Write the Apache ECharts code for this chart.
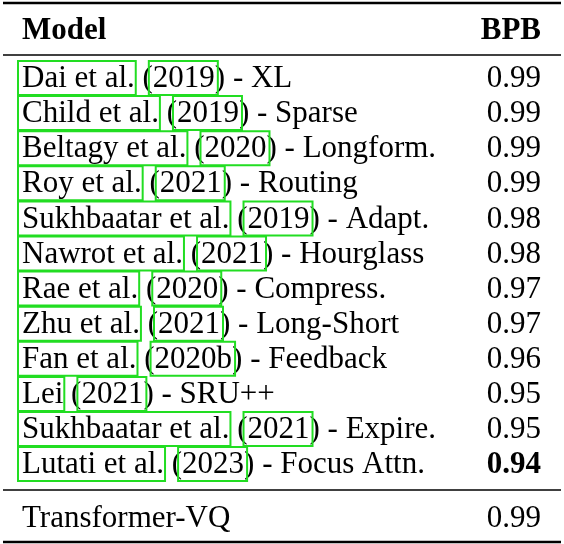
<!DOCTYPE html>
<html><head><meta charset="utf-8">
<script src="https://cdn.jsdelivr.net/npm/echarts@6/dist/echarts.min.js"></script>
<style>html,body{margin:0;padding:0;background:#fff}#c{width:564px;height:544px}</style>
</head><body><div id="c"></div>
<script>
const authors = ["Dai et al.","Child et al.","Beltagy et al.","Roy et al.","Sukhbaatar et al.","Nawrot et al.","Rae et al.","Zhu et al.","Fan et al.","Lei","Sukhbaatar et al.","Lutati et al."];
const years = ["2019","2019","2020","2021","2019","2021","2020","2021","2020b","2021","2021","2023"];
const suffixes = ["XL","Sparse","Longform.","Routing","Adapt.","Hourglass","Compress.","Long-Short","Feedback","SRU++","Expire.","Focus Attn."];
const bpb = ["0.99","0.99","0.99","0.99","0.98","0.98","0.97","0.97","0.96","0.95","0.95","0.94"];
const bestIndex = 11;
const headers = ["Model","BPB"];
const extraModel = "Transformer-VQ";
const extraBpb = "0.99";

const FS = 31, FF = "'Liberation Serif', 'DejaVu Serif', serif";
const ctx = document.createElement('canvas').getContext('2d');
ctx.font = FS + "px " + FF;
const w = s => ctx.measureText(s).width;

const X0 = 22, XR = 541, GREEN = '#22dd22';
const els = [];
function txt(x, y, s, align, bold) {
  els.push({type:'text', x, y, style:{text:s, font:(bold?'bold ':'')+FS+'px '+FF, fill:'#000', align:align||'left', verticalAlign:'middle'}});
}
function line(y, lw) {
  els.push({type:'line', shape:{x1:3,y1:y,x2:561,y2:y}, style:{stroke:'#000', lineWidth:lw}});
}
function box(x, y, bw) {
  els.push({type:'rect', shape:{x:x, y:y-17, width:bw, height:34}, style:{fill:'none', stroke:GREEN, lineWidth:2}, z:10});
}
line(3, 2.5);
txt(X0, 31, headers[0], 'left', true);
txt(XR, 31, headers[1], 'right', true);
line(55, 1.5);
const Y0 = 79, STEP = 35.1;
authors.forEach((a, i) => {
  const y = Y0 + i * STEP;
  const full = a + " (" + years[i] + ") - " + suffixes[i];
  txt(X0, y, full);
  box(X0 - 4, y - 1, w(a) + 5);
  const yx = X0 + w(a + " (");
  box(yx - 4, y - 1, w(years[i]) + 7);
  txt(XR, y, bpb[i], 'right', i === bestIndex);
});
line(490, 1.5);
txt(X0, 519, extraModel);
txt(XR, 519, extraBpb, 'right');
line(542, 2.5);

const chart = echarts.init(document.getElementById('c'));
chart.setOption({animation:false, graphic:{elements:els}});
</script></body></html>
